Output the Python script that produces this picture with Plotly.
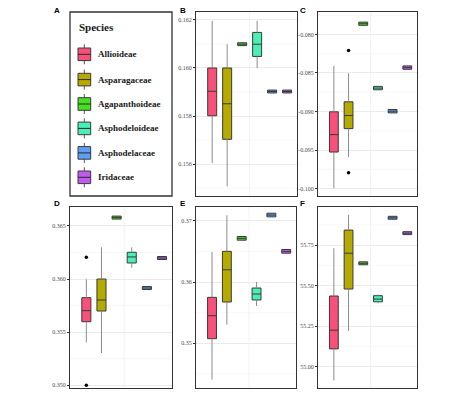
import plotly.graph_objects as go

W, H = 474, 399

species = ["Allioideae", "Asparagaceae", "Agapanthoideae", "Asphodeloideae", "Asphodelaceae", "Iridaceae"]
colors = ["#F9507A", "#B5AB00", "#45E01E", "#48F0B4", "#5E9EF2", "#C25AF0"]

# Panel B
b_q1 = [0.15801, 0.15703, 0.16093, 0.16048, 0.15896, 0.15896]
b_med = [0.15903, 0.15851, 0.16099, 0.16099, 0.15902, 0.15902]
b_q3 = [0.16000, 0.16000, 0.16105, 0.16148, 0.15908, 0.15908]
b_lo = [0.15604, 0.15507, 0.16093, 0.16000, 0.15896, 0.15896]
b_hi = [0.16196, 0.16099, 0.16105, 0.16196, 0.15908, 0.15908]
b_out_x, b_out_y = [], []

# Panel C
c_q1 = [-0.09526, -0.09222, -0.07882, -0.08718, -0.09018, -0.08452]
c_med = [-0.09300, -0.09052, -0.07861, -0.08696, -0.08996, -0.08430]
c_q3 = [-0.09004, -0.08874, -0.07840, -0.08674, -0.08974, -0.08408]
c_lo = [-0.09996, -0.09591, -0.07882, -0.08718, -0.09018, -0.08452]
c_hi = [-0.08409, -0.08504, -0.07840, -0.08674, -0.08974, -0.08408]
c_out_x, c_out_y = [1, 1], [-0.08209, -0.09796]

# Panel D
d_q1 = [0.35597, 0.35698, 0.36565, 0.36151, 0.35901, 0.36184]
d_med = [0.35701, 0.35802, 0.36579, 0.36208, 0.35915, 0.36198]
d_q3 = [0.35824, 0.36000, 0.36593, 0.36252, 0.35929, 0.36212]
d_lo = [0.35402, 0.35302, 0.36565, 0.36107, 0.35901, 0.36184]
d_hi = [0.35997, 0.36299, 0.36593, 0.36299, 0.35929, 0.36212]
d_out_x, d_out_y = [0, 0], [0.36204, 0.34997]

# Panel E
e_q1 = [0.35076, 0.35674, 0.36682, 0.35707, 0.37062, 0.36470]
e_med = [0.35451, 0.36200, 0.36712, 0.35804, 0.37092, 0.36500]
e_q3 = [0.35750, 0.36500, 0.36742, 0.35902, 0.37122, 0.36530]
e_lo = [0.34408, 0.35304, 0.36682, 0.35609, 0.37062, 0.36470]
e_hi = [0.36489, 0.37087, 0.36742, 0.36000, 0.37122, 0.36530]
e_out_x, e_out_y = [], []

# Panel F
f_q1 = [55.1095, 55.479, 55.629, 55.400, 55.910, 55.815]
f_med = [55.225, 55.700, 55.638, 55.417, 55.919, 55.824]
f_q3 = [55.436, 55.843, 55.647, 55.438, 55.928, 55.833]
f_lo = [54.915, 55.221, 55.629, 55.390, 55.910, 55.815]
f_hi = [55.7314, 55.938, 55.647, 55.446, 55.928, 55.833]
f_out_x, f_out_y = [], []

b_ticks = [0.156, 0.158, 0.160, 0.162]
c_ticks = [-0.100, -0.095, -0.090, -0.085, -0.080]
d_ticks = [0.350, 0.355, 0.360, 0.365]
e_ticks = [0.35, 0.36, 0.37]
f_ticks = [55.00, 55.25, 55.50, 55.75]
b_ticktext = ["0.156", "0.158", "0.160", "0.162"]
c_ticktext = ["-0.100", "-0.095", "-0.090", "-0.085", "-0.080"]
d_ticktext = ["0.350", "0.355", "0.360", "0.365"]
e_ticktext = ["0.35", "0.36", "0.37"]
f_ticktext = ["55.00", "55.25", "55.50", "55.75"]

panel_letters = ["A", "B", "C", "D", "E", "F"]


def px(x):
    return x / W


def py(y):
    return 1 - y / H


panels = [
    dict(name="B", q1=b_q1, med=b_med, q3=b_q3, lo=b_lo, hi=b_hi, ox=b_out_x, oy=b_out_y,
         ticks=b_ticks, tt=b_ticktext, yr=[0.15467, 0.16233], box=(196, 297, 12, 196)),
    dict(name="C", q1=c_q1, med=c_med, q3=c_q3, lo=c_lo, hi=c_hi, ox=c_out_x, oy=c_out_y,
         ticks=c_ticks, tt=c_ticktext, yr=[-0.10096, -0.07709], box=(318, 417, 12, 196)),
    dict(name="D", q1=d_q1, med=d_med, q3=d_q3, lo=d_lo, hi=d_hi, ox=d_out_x, oy=d_out_y,
         ticks=d_ticks, tt=d_ticktext, yr=[0.34972, 0.36679], box=(70, 172, 207, 388)),
    dict(name="E", q1=e_q1, med=e_med, q3=e_q3, lo=e_lo, hi=e_hi, ox=e_out_x, oy=e_out_y,
         ticks=e_ticks, tt=e_ticktext, yr=[0.34272, 0.37223], box=(196, 296, 207, 388)),
    dict(name="F", q1=f_q1, med=f_med, q3=f_q3, lo=f_lo, hi=f_hi, ox=f_out_x, oy=f_out_y,
         ticks=f_ticks, tt=f_ticktext, yr=[54.868, 55.9855], box=(318, 417, 207, 388)),
]

fig = go.Figure()
layout = dict(width=W, height=H, margin=dict(l=0, r=0, t=0, b=0),
              paper_bgcolor="white", plot_bgcolor="white", showlegend=False)
shapes = []
annotations = []

for k, p in enumerate(panels, start=1):
    xa = "x" if k == 1 else f"x{k}"
    ya = "y" if k == 1 else f"y{k}"
    x0, x1, y0, y1 = p["box"]
    # minor gridlines
    t = p["ticks"]
    step = t[1] - t[0]
    minor = [v + step / 2 for v in [t[0] - step] + t]
    for mv in minor:
        if p["yr"][0] < mv < p["yr"][1]:
            shapes.append(dict(type="line", xref=xa + " domain", yref=ya, x0=0, x1=1, y0=mv, y1=mv,
                               line=dict(color="#f3f3f3", width=0.6), layer="below"))
    shapes.append(dict(type="line", xref=xa, yref=ya + " domain", x0=2.5, x1=2.5, y0=0, y1=1,
                       line=dict(color="#ececec", width=0.7), layer="below"))
    for i, sp in enumerate(species):
        fig.add_trace(go.Box(
            x=[i], q1=[p["q1"][i]], median=[p["med"][i]], q3=[p["q3"][i]],
            lowerfence=[p["q1"][i]], upperfence=[p["q3"][i]],
            width=0.6, whiskerwidth=0, fillcolor=colors[i],
            line=dict(color="#3a3a3a", width=1), boxpoints=False, name=sp,
            xaxis=xa, yaxis=ya, hoverinfo="skip"))
        if p["hi"][i] > p["q3"][i] or p["lo"][i] < p["q1"][i]:
            fig.add_trace(go.Scatter(
                x=[i, i, None, i, i], y=[p["q3"][i], p["hi"][i], None, p["q1"][i], p["lo"][i]],
                mode="lines", line=dict(color="#8c8c8c", width=1), xaxis=xa, yaxis=ya,
                hoverinfo="skip"))
    if p["ox"]:
        fig.add_trace(go.Scatter(x=p["ox"], y=p["oy"], mode="markers",
                                 marker=dict(color="black", size=3.5), xaxis=xa, yaxis=ya,
                                 hoverinfo="skip"))
    kx = "xaxis" if k == 1 else f"xaxis{k}"
    ky = "yaxis" if k == 1 else f"yaxis{k}"
    layout[kx] = dict(domain=[px(x0), px(x1)], range=[-1.08, 5.66], showticklabels=False,
                      ticks="", showgrid=False, zeroline=False, showline=True, mirror=True,
                      linecolor="#333333", linewidth=1.3, anchor=ya, fixedrange=True)
    layout[ky] = dict(domain=[py(y1), py(y0)], range=p["yr"], tickvals=p["ticks"], ticktext=p["tt"],
                      ticks="outside", ticklen=2, tickwidth=0.8, tickcolor="#333333",
                      tickfont=dict(family="Liberation Serif", size=6, color="#4d4d4d"),
                      showgrid=True, gridcolor="#ebebeb", gridwidth=0.7, zeroline=False,
                      showline=True, mirror=True, linecolor="#333333", linewidth=1.3,
                      anchor=xa, fixedrange=True)

# Legend panel (A)
shapes.append(dict(type="rect", xref="paper", yref="paper", x0=px(70), x1=px(172), y0=py(196), y1=py(12),
                   line=dict(color="#333333", width=1.3), fillcolor="rgba(0,0,0,0)"))
annotations.append(dict(text="<b>Species</b>", xref="paper", yref="paper", x=px(77), y=py(27),
                        xanchor="left", yanchor="middle", showarrow=False,
                        font=dict(family="Liberation Serif", size=11, color="#1a1a1a")))
leg_y = [54.3, 79.6, 104.0, 128.4, 152.9, 177.3]
for i, sp in enumerate(species):
    cy = leg_y[i]
    shapes.append(dict(type="line", xref="paper", yref="paper", x0=px(84.3), x1=px(84.3),
                       y0=py(cy - 10), y1=py(cy + 10), line=dict(color="#555555", width=1)))
    shapes.append(dict(type="rect", xref="paper", yref="paper", x0=px(78), x1=px(90.7),
                       y0=py(cy + 6.3), y1=py(cy - 6.3), fillcolor=colors[i],
                       line=dict(color="#3a3a3a", width=1)))
    shapes.append(dict(type="line", xref="paper", yref="paper", x0=px(78), x1=px(90.7),
                       y0=py(cy), y1=py(cy), line=dict(color="#2a2a2a", width=1)))
    annotations.append(dict(text=f"<b>{sp}</b>", xref="paper", yref="paper", x=px(95.5), y=py(cy),
                            xanchor="left", yanchor="middle", showarrow=False,
                            font=dict(family="Liberation Serif", size=9, color="#1a1a1a")))

letter_pos = [(57, 10), (183, 10), (303, 10), (57, 203.5), (182.5, 203.5), (302, 203.5)]
for L, (lx, ly) in zip(panel_letters, letter_pos):
    annotations.append(dict(text=f"<b>{L}</b>", xref="paper", yref="paper", x=px(lx), y=py(ly),
                            xanchor="center", yanchor="middle", showarrow=False,
                            font=dict(family="Liberation Sans", size=8, color="black")))

layout["shapes"] = shapes
layout["annotations"] = annotations
fig.update_layout(**layout)
fig.write_html("out.html", config={"displayModeBar": False},
               post_script="document.body.style.margin='0px';document.body.style.overflow='hidden';")
